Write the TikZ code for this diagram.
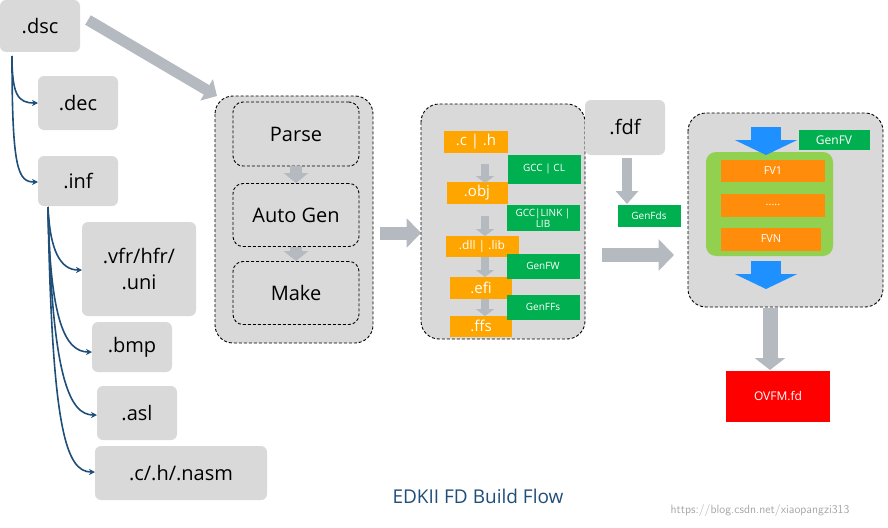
\documentclass[tikz,border=0pt]{standalone}
\usepackage{fontspec}
\setmainfont{Open Sans}
\usetikzlibrary{arrows.meta}
\definecolor{gbox}{HTML}{D9D9D9}
\definecolor{garr}{HTML}{B4BAC0}
\definecolor{org}{HTML}{FFA500}
\definecolor{org2}{HTML}{FF8C0A}
\definecolor{grn}{HTML}{00B050}
\definecolor{lgrn}{HTML}{92D050}
\definecolor{blu}{HTML}{1E90FF}
\definecolor{navy}{HTML}{1F4E79}
\begin{document}
\begin{tikzpicture}[x=1pt,y=-1pt,
 file/.style={fill=gbox,rounded corners=6pt,font=\fontsize{20}{22}\selectfont},
 blk/.style={fill=gbox,draw=black,line width=0.9pt,dash pattern=on 3pt off 2pt,rounded corners=18pt},
 inner/.style={draw=black,line width=0.9pt,dash pattern=on 3pt off 2pt,rounded corners=10pt,font=\fontsize{20}{22}\selectfont},
 ob/.style={fill=org,text=white,inner sep=0pt,font=\fontsize{15}{16}\selectfont},
 gb/.style={fill=grn,text=white,inner sep=0pt,font=\fontsize{10}{11}\selectfont,align=center},
 tr/.style={navy,line width=1.6pt,-{Stealth[length=6pt,width=6pt]}},
 ga/.style={garr,line width=#1,-{Triangle[length=1.1*#1,width=2.2*#1]}},
 ga/.default=10pt,
 ba/.style={blu,line width=30pt,-{Triangle[length=15pt,width=62pt]}}]
\useasboundingbox (0,0) rectangle (888,527);
% left files
\path[file] (0,0) rectangle (80,52); \node (dsc) at (40,26) [font=\fontsize{20}{22}\selectfont] {.dsc};
\path[file] (38,76) rectangle (118,130); \node (dec) at (78,103) [font=\fontsize{20}{22}\selectfont] {.dec};
\path[file] (38,156) rectangle (118,206); \node (inf) at (78,181) [font=\fontsize{20}{22}\selectfont] {.inf};
\path[file] (82,222) rectangle (196,316); \node (vfr) at (139,269) [font=\fontsize{20}{26}\selectfont,align=center] {.vfr/hfr/\\.uni};
\path[file] (92,322) rectangle (172,372); \node (bmp) at (132,347) [font=\fontsize{20}{22}\selectfont] {.bmp};
\path[file] (97,386) rectangle (177,440); \node (asl) at (137,413) [font=\fontsize{20}{22}\selectfont] {.asl};
\path[file] (95,446) rectangle (267,500); \node (nasm) at (181,473) [font=\fontsize{20}{22}\selectfont] {.c/.h/.nasm};
\coordinate (t1) at (12,56);
\coordinate (t2) at (48,207);
\draw[tr] (t1) .. controls (12,95) and (18,103) .. (38,103);
\draw[tr] (t1) .. controls (12,170) and (18,182) .. (38,182);
\draw[tr] (t2) .. controls (50,250) and (60,270) .. (82,270);
\draw[tr] (t2) .. controls (50,320) and (65,352) .. (92,352);
\draw[tr] (t2) .. controls (52,380) and (70,415) .. (97,415);
\draw[tr] (t2) .. controls (52,430) and (66,472) .. (95,472);
% big arrow
\coordinate (a1) at (88,20); \coordinate (a2) at (217,96);
\draw[ga=11pt] (a1) -- (a2);
% parse block
\path[blk] (215,96) rectangle (373,343);
\node[inner,minimum width=126pt,minimum height=64pt] (parse) at (296,134) {Parse};
\node[inner,minimum width=126pt,minimum height=63pt] (gen) at (296,215) {Auto Gen};
\node[inner,minimum width=126pt,minimum height=63pt] (make) at (296,293) {Make};
\draw[garr,line width=12pt,-{Triangle[length=10pt,width=24pt]}] (parse.south) -- (gen.north);
\draw[garr,line width=12pt,-{Triangle[length=10pt,width=24pt]}] (gen.south) -- (make.north);
\coordinate (b1) at (380,233); \coordinate (b2) at (421,233);
\draw[ga=13pt] (b1) -- (b2);
% middle block
\path[blk] (421,104) rectangle (585,339);
\node[ob,minimum width=64pt,minimum height=22pt] (c) at (476,142) {.c | .h};
\node[ob,minimum width=61pt,minimum height=22pt] (obj) at (477,193) {.obj};
\node[ob,minimum width=73pt,minimum height=21pt,font=\fontsize{12}{13}\selectfont] (dll) at (482,246) {.dll | .lib};
\node[ob,minimum width=62pt,minimum height=22pt] (efi) at (481,288) {.efi};
\node[ob,minimum width=62pt,minimum height=21pt] (ffs) at (481,326) {.ffs};
\draw[garr,line width=8pt,-{Triangle[length=7pt,width=18pt]}] (485,164) -- (485,183);
\draw[garr,line width=8pt,-{Triangle[length=7pt,width=18pt]}] (485,216) -- (485,236);
\draw[garr,line width=8pt,-{Triangle[length=7pt,width=18pt]}] (485,257) -- (485,277);
\draw[garr,line width=8pt,-{Triangle[length=7pt,width=18pt]}] (485,299) -- (485,316);
\node[gb,minimum width=73pt,minimum height=29pt] (g1) at (544,169) {GCC | CL};
\node[gb,minimum width=73pt,minimum height=26pt] (g2) at (543,218) {GCC|LINK |\\LIB};
\node[gb,minimum width=73pt,minimum height=25pt] (g3) at (543,266) {GenFW};
\node[gb,minimum width=73pt,minimum height=25pt] (g4) at (543,307) {GenFFs};
% fdf
\path[file] (585,100) rectangle (665,155); \node (fdf) at (625,127) [font=\fontsize{20}{22}\selectfont] {.fdf};
\node[gb,minimum width=63pt,minimum height=22pt] (gfds) at (649,216) {GenFds};
\draw[garr,line width=10pt,-{Triangle[length=13pt,width=22pt]}] (627,158) -- (627,204);
\coordinate (c1) at (602,255); \coordinate (c2) at (674,255);
\draw[ga=14pt] (c1) -- (c2);
% right block
\path[blk] (688,113) rectangle (883,307);
\path[fill=lgrn,rounded corners=10pt] (706,152) rectangle (833,256);
\node[fill=org2,text=white,minimum width=104pt,minimum height=22pt,inner sep=0pt,font=\fontsize{11}{12}\selectfont] (fv1) at (773,171) {FV1};
\node[fill=org2,text=white,minimum width=104pt,minimum height=23pt,inner sep=0pt,font=\fontsize{11}{12}\selectfont] (fvd) at (773,205) {.....};
\node[fill=org2,text=white,minimum width=100pt,minimum height=23pt,inner sep=0pt,font=\fontsize{11}{12}\selectfont] (fvn) at (771,239) {FVN};
\node[gb,minimum width=71pt,minimum height=20pt,font=\fontsize{12}{13}\selectfont] (gfv) at (834,140) {GenFV};
\draw[ba] (766,127) -- (766,155);
\draw[ba] (766,261) -- (766,289);
\node[fill=red,text=white,minimum width=104pt,minimum height=51pt,inner sep=0pt,font=\fontsize{12}{13}\selectfont] (ovfm) at (778,396) {OVFM.fd};
\draw[garr,line width=15pt,-{Triangle[length=12pt,width=30pt]}] (770,308) -- (770,370);
% titles
\node[navy,font=\fontsize{19}{21}\selectfont] (title) at (478,496) {EDKII FD Build Flow};
\node[gray!70,font=\fontsize{12}{13}\selectfont\sffamily] (wm) at (760,510) {https://blog.csdn.net/xiaopangzi313};
\end{tikzpicture}
\end{document}
